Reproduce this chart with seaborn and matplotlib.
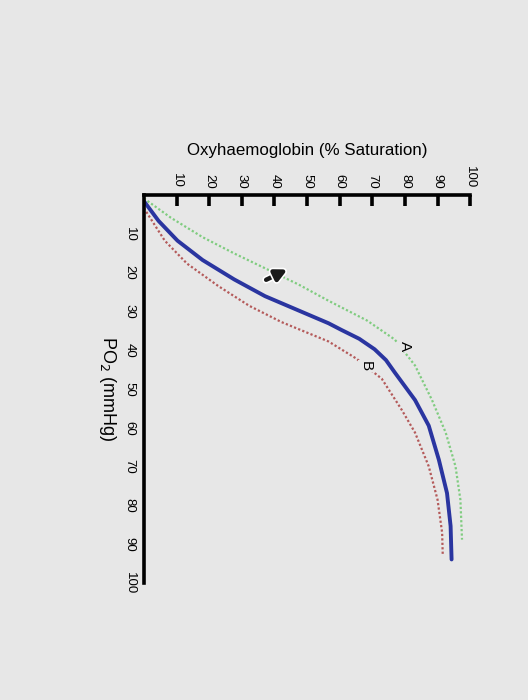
import matplotlib
matplotlib.use("Agg")
import matplotlib.pyplot as plt
import matplotlib.patheffects as pe
import pandas as pd
import seaborn as sns

# values (chart is shown turned a quarter turn clockwise)
po2_normal = [1.5, 6.6, 11.7, 16.7, 21.7, 26, 29.7, 33, 34.7, 37, 39.7, 42.5, 45.7,
              52.8, 59.4, 68.2, 76.8, 85.3, 93.9]
sat_normal = [0, 4.5, 10.3, 18, 27.7, 37.1, 47.4, 56.6, 60.5, 66, 70.7, 74.2, 76.9,
              83.1, 87.3, 90.4, 92.9, 94, 94.3]

po2_a = [0.8, 5.8, 10.8, 15, 18.8, 23, 27.2, 32.3, 37.2, 43.9, 52.8, 61.2, 69.9, 78.5, 88.8]
sat_a = [0, 8.3, 18, 27.7, 37.1, 47.4, 56.6, 68.4, 76.9, 83.1, 88.3, 92.5, 95.5, 97, 97.5]

po2_b = [3.3, 11.7, 17.6, 23.4, 28.5, 32.7, 35.2, 37.7, 42.1, 47.3, 55.3, 61.2, 69.9,
         78.5, 87, 93]
sat_b = [0, 6.4, 13.2, 22.8, 32.3, 42.2, 49.4, 56.6, 65.1, 72.9, 79, 83.1, 87.3,
         90, 91.4, 91.6]

ticks = [10, 20, 30, 40, 50, 60, 70, 80, 90, 100]

curves = pd.concat([
    pd.DataFrame({"po2": po2_normal, "sat": sat_normal, "curve": "normal"}),
    pd.DataFrame({"po2": po2_a, "sat": sat_a, "curve": "A"}),
    pd.DataFrame({"po2": po2_b, "sat": sat_b, "curve": "B"}),
])

sns.set_theme(style="white")
plt.rcParams["font.family"] = ["Liberation Sans", "DejaVu Sans"]
plt.rcParams["text.color"] = "black"
plt.rcParams["axes.labelcolor"] = "black"

bg = "#e7e7e7"
fig = plt.figure(figsize=(5.28, 7), dpi=100, facecolor=bg)
ax = fig.add_axes([0.2725, 0.167, 0.618, 0.554], facecolor=bg)

styles = {
    "normal": dict(color="#2a35a0", lw=2.8, ls="-"),
    "A": dict(color="#80cc80", lw=1.6, ls=(0, (1, 1))),
    "B": dict(color="#b45a5a", lw=1.6, ls=(0, (1, 1))),
}
for name in ["A", "B", "normal"]:
    sub = curves[curves["curve"] == name]
    sns.lineplot(data=sub, x="sat", y="po2", sort=False, ax=ax, **styles[name])

ax.set_xlim(0, 100)
ax.set_ylim(100, 0)
ax.xaxis.tick_top()
ax.xaxis.set_label_position("top")
ax.set_xticks(ticks)
ax.set_yticks(ticks)
ax.set_xticklabels([str(t) for t in ticks], rotation=-90, fontsize=9.5, color="black")
ax.set_yticklabels([str(t) for t in ticks], rotation=-90, fontsize=9.5, va="center",
                   color="black")
ax.tick_params(axis="both", direction="in", length=8, width=2.6, color="black")
ax.tick_params(axis="x", pad=5)
ax.tick_params(axis="y", pad=6)
ax.xaxis.get_major_ticks()[2].tick2line.set_color("#2f6e50")

for side in ["bottom", "right"]:
    ax.spines[side].set_visible(False)
for side in ["top", "left"]:
    ax.spines[side].set_linewidth(2.6)
    ax.spines[side].set_color("black")

ax.set_xlabel("Oxyhaemoglobin (% Saturation)", fontsize=12.2, labelpad=8)
ax.set_ylabel("PO$_2$ (mmHg)", fontsize=13, rotation=-90, labelpad=19)

label_box = dict(boxstyle="square,pad=0.05", fc=bg, ec="none")
ax.text(80, 39, "A", rotation=-90, fontsize=11, ha="center", va="center", bbox=label_box)
ax.text(68, 44, "B", rotation=-90, fontsize=11, ha="center", va="center", bbox=label_box)

ax.annotate("", xy=(44.8, 18.8), xytext=(36.7, 22.1),
            arrowprops=dict(arrowstyle="-|>", color="#1a1a1a", lw=3.2, mutation_scale=17,
                            path_effects=[pe.withStroke(linewidth=5.5, foreground="white")]))

fig.savefig("out.png", dpi=100, facecolor=bg)
